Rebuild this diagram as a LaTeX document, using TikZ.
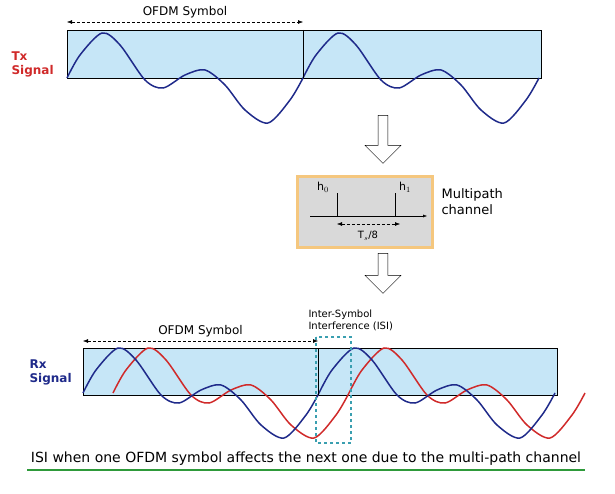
\documentclass[tikz,border=0pt]{standalone}
\usepackage{fontspec}
\setmainfont{DejaVu Sans}
\usetikzlibrary{positioning, arrows.meta, shapes.arrows}
\definecolor{boxblue}{HTML}{C6E6F7}
\definecolor{wavenavy}{HTML}{1F2A8A}
\definecolor{wavered}{HTML}{D02A2A}
\definecolor{chanorange}{HTML}{F5C77E}
\definecolor{changray}{HTML}{D9D9D9}
\definecolor{isiteal}{HTML}{3A9FB0}
\definecolor{capgreen}{HTML}{2E9A3A}
\tikzset{
  symbox/.style={draw=black, fill=boxblue},
  sigwave/.style={line width=1.5pt, smooth},
  span/.style={densely dashed, {Latex[length=5pt]}-{Latex[length=5pt]}},
  downarrow/.style={single arrow, draw=black, fill=white, rotate=-90, minimum height=48pt, minimum width=36pt, single arrow head extend=6pt, inner sep=2pt},
  lbl/.style={font=\fontsize{12}{13}\selectfont},
}
\newcommand{\symwave}{(0,78) (13,55) (35,33) (53,45) (78,80) (96,88) (118,75) (138,70) (158,85) (178,110) (201,123) (223,100) (236,78)}
\begin{document}
\begin{tikzpicture}[x=1pt, y=-1pt]
  \useasboundingbox (0,0) rectangle (615,494);

  % Tx signal
  \draw [symbox] (67,30) rectangle (541,78);
  \foreach \s in {0,236} {
    \draw [sigwave, wavenavy, xshift={(67+\s)*1pt}] plot coordinates {\symwave};
  }
  \draw [thick] (303,30) -- (303,78);
  \coordinate (txa) at (67,22);
  \coordinate (txb) at (303,22);
  \draw [span] (txa) -- node[lbl, above=0pt] {OFDM Symbol} (txb);
  \node [font=\bfseries\fontsize{12}{14}\selectfont, text=wavered, align=left, anchor=west] (txlabel) at (8,64) {Tx\\Signal};

  % channel
  \node [downarrow] (arrow1) at (383,137) {};
  \draw [line width=3pt, draw=chanorange, fill=changray] (297,177) rectangle (432,247);
  \coordinate (axl) at (310,216);
  \coordinate (axr) at (427,216);
  \draw [-{Latex[length=4pt]}] (axl) -- (axr);
  \draw (337,216) -- (337,193);
  \draw (395,216) -- (395,193);
  \node [lbl, anchor=south, font=\fontsize{11}{12}\selectfont] (h0) at (323,196) {h$_0$};
  \node [lbl, anchor=south, font=\fontsize{11}{12}\selectfont] (h1) at (405,196) {h$_1$};
  \coordinate (ta) at (337,224);
  \coordinate (tb) at (400,224);
  \draw [span] (ta) -- (tb);
  \node [font=\fontsize{10}{12}\selectfont] (ts) at (368,236) {T$_s$/8};
  \node [font=\fontsize{13}{16}\selectfont, align=left, anchor=west] (mplabel) at (438,202) {Multipath\\channel};
  \node [downarrow, minimum height=40pt] (arrow2) at (383,271) {};

  % Rx signal
  \draw [symbox] (83,348) rectangle (557,395);
  \foreach \s in {0,236} {
    \draw [sigwave, wavered, xshift={(113+\s)*1pt}, yshift=-315pt] plot coordinates {\symwave};
  }
  \foreach \s in {0,236} {
    \draw [sigwave, wavenavy, xshift={(83+\s)*1pt}, yshift=-315pt] plot coordinates {\symwave};
  }
  \draw [thick] (318,348) -- (318,395);
  \coordinate (rxa) at (83,341);
  \coordinate (rxb) at (318,341);
  \draw [span] (rxa) -- node[lbl, above=0pt] {OFDM Symbol} (rxb);
  \node [font=\bfseries\fontsize{12}{14}\selectfont, text=wavenavy, align=left, anchor=west] (rxlabel) at (26,372) {Rx\\Signal};
  \draw [isiteal, dashed, line width=1.5pt] (316,337) rectangle (351,443);
  \node [font=\fontsize{10}{12}\selectfont, align=left, anchor=south west] (isi) at (305,334) {Inter-Symbol\\Interference (ISI)};

  % caption
  \node [font=\fontsize{14}{16}\selectfont] (caption) at (306,459) {ISI when one OFDM symbol affects the next one due to the multi-path channel};
  \coordinate (gl) at (27,470);
  \coordinate (gr) at (585,470);
  \draw [capgreen, line width=2pt] (gl) -- (gr);
\end{tikzpicture}
\end{document}
